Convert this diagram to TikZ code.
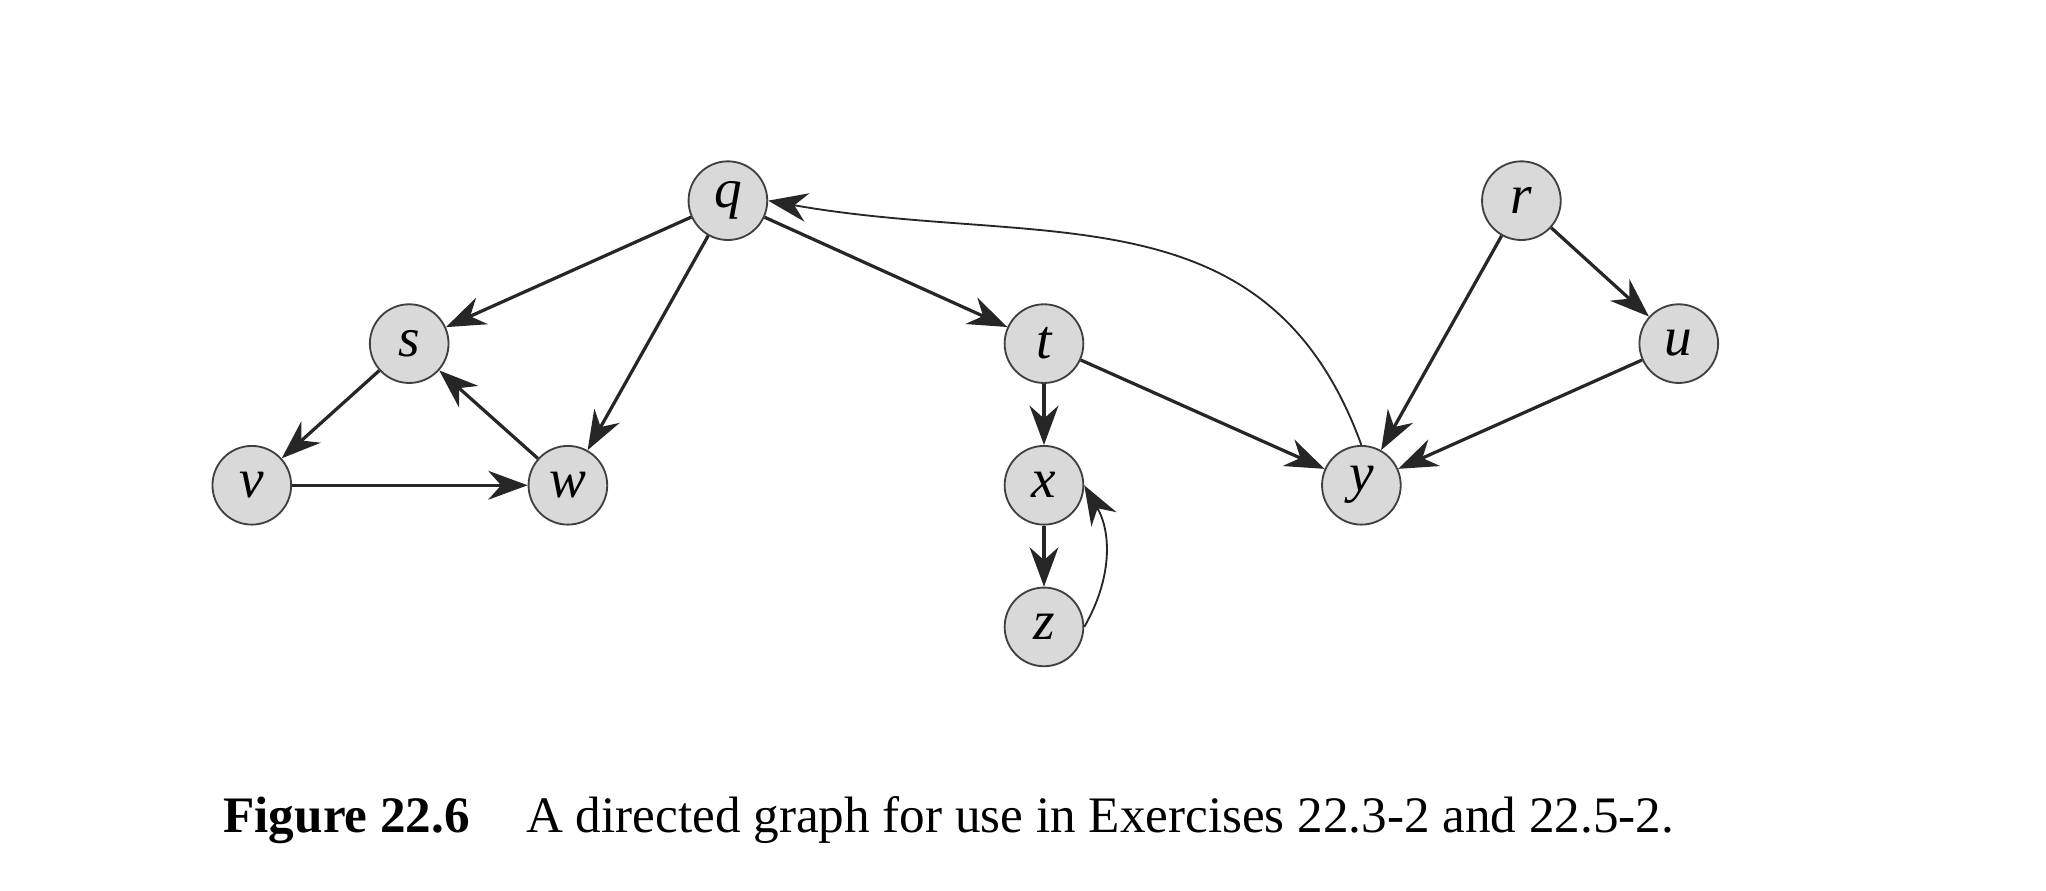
\documentclass[tikz,border=0pt]{standalone}
\usepackage{fontspec}
\setmainfont{Liberation Serif}
\usetikzlibrary{arrows.meta}
\begin{document}
\begin{tikzpicture}[x=0.1mm,y=-0.1mm,
  vert/.style={circle,draw=black!75,fill=black!15,minimum size=6mm,inner sep=0pt,font=\fontsize{12}{12}\selectfont\itshape},
  edge/.style={-{Stealth[length=3mm,width=2.2mm]},line width=0.7pt,black!85},
  thin edge/.style={-{Stealth[length=3mm,width=2.2mm]},line width=0.4pt,black!85}]
\useasboundingbox (0,0) rectangle (1560,678.6);
\node[vert] (q) at (555,153) {q};
\node[vert] (r) at (1160,153) {r};
\node[vert] (s) at (312,262) {s};
\node[vert] (t) at (796,262) {t};
\node[vert] (u) at (1280,262) {u};
\node[vert] (v) at (192,370) {v};
\node[vert] (w) at (433,370) {w};
\node[vert] (x) at (796,370) {x};
\node[vert] (y) at (1038,370) {y};
\node[vert] (z) at (796,478) {z};
\draw[edge] (q) -- (s);
\draw[edge] (q) -- (w);
\draw[edge] (q) -- (t);
\draw[edge] (s) -- (v);
\draw[edge] (w) -- (s);
\draw[edge] (v) -- (w);
\draw[edge] (t) -- (x);
\draw[edge] (t) -- (y);
\draw[edge] (x) -- (z);
\draw[edge] (r) -- (y);
\draw[edge] (r) -- (u);
\draw[edge] (u) -- (y);
\draw[thin edge] (y.north) to[out=110,in=-10,looseness=1.1] (q.east);
\draw[thin edge] (z.east) to[out=60,in=-60] (x.east);
\node[anchor=west,font=\fontsize{11.1}{13}\selectfont] (cap) at (158,625) {\textbf{Figure 22.6}\hspace{1.1em}A directed graph for use in Exercises 22.3-2 and 22.5-2.};
\end{tikzpicture}
\end{document}
